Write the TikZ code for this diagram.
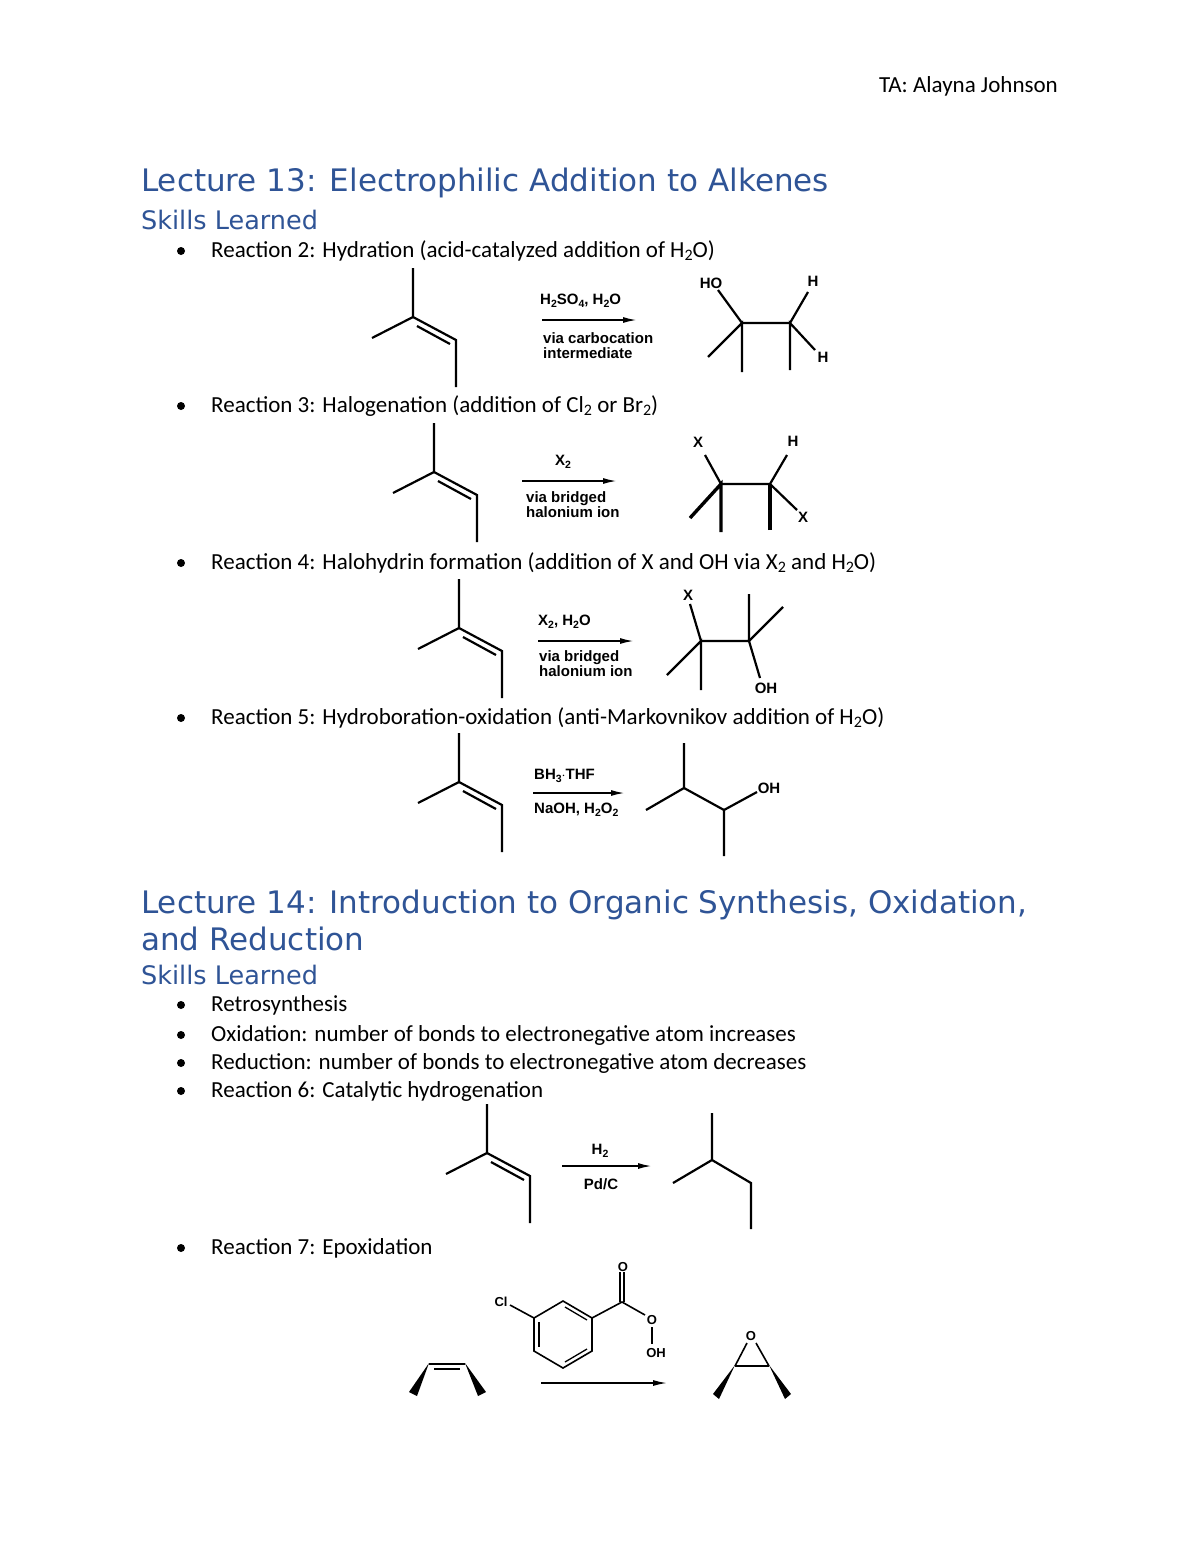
\documentclass[tikz,border=0pt]{standalone}
\usepackage{fontspec}
\setmainfont{Carlito}
\newfontfamily\headf{DejaVu Sans}
\newfontfamily\chemf{Liberation Sans}
\usetikzlibrary{arrows.meta}
\definecolor{hblue}{HTML}{2F5496}
\newcommand{\chs}[1]{\raisebox{-0.35ex}{\fontsize{10.5}{10}\selectfont #1}}
\newcommand{\bsub}[1]{\raisebox{-0.3ex}{\fontsize{16}{16}\selectfont #1}}
\tikzset{
  bond/.style={line width=2.2pt},
  tbond/.style={line width=3.4pt},
  rxn/.style={line width=1.8pt,-{Latex[length=14pt,width=6pt]}},
  chem/.style={font=\chemf\bfseries\fontsize{15}{15.5}\selectfont,inner sep=0pt,align=left},
  body/.style={font=\fontsize{23}{26}\selectfont,anchor=west,inner sep=0pt},
  h1/.style={font=\headf\fontsize{31}{37}\selectfont,text=hblue,anchor=west,inner sep=0pt,align=left},
  h2/.style={font=\headf\fontsize{25.5}{28}\selectfont,text=hblue,anchor=west,inner sep=0pt},
}
\newcommand{\alkene}[2]{%
  \begin{scope}[shift={(#1,#2)}]
  \draw[bond] (0,-49) -- (0,0) -- (-41,21);
  \draw[bond] (0,0) -- (43,23) -- (43,70);
  \draw[bond] (4,9) -- (37,27);
  \end{scope}}
\begin{document}
\begin{tikzpicture}[x=1pt,y=-1pt]
\useasboundingbox (0,0) rectangle (1200,1553);
\fill[white] (0,0) rectangle (1200,1553);
\node[font=\fontsize{23}{26}\selectfont,anchor=east,inner sep=0pt] (ta) at (1058,86) {TA: Alayna Johnson};
\node[h1] (l13) at (141,183) {Lecture 13: Electrophilic Addition to Alkenes};
\node[h2] (s13) at (141,220) {Skills Learned};
\foreach \y/\t in {251/{Reaction 2: Hydration (acid-catalyzed addition of H\bsub{2}O)},
  406/{Reaction 3: Halogenation (addition of Cl\bsub{2} or Br\bsub{2})},
  563/{Reaction 4: Halohydrin formation (addition of X and OH via X\bsub{2} and H\bsub{2}O)},
  718/{Reaction 5: Hydroboration-oxidation (anti-Markovnikov addition of H\bsub{2}O)},
  1005/{Retrosynthesis},
  1035/{Oxidation: number of bonds to electronegative atom increases},
  1063/{Reduction: number of bonds to electronegative atom decreases},
  1091/{Reaction 6: Catalytic hydrogenation},
  1248/{Reaction 7: Epoxidation}}{
  \fill (181,\y) circle (4);
  \node[body] at (211,\y) {\t};
}
\node[h1] (l14) at (141,920) {Lecture 14: Introduction to Organic Synthesis, Oxidation,\\and Reduction};
\node[h2] (s14) at (141,975) {Skills Learned};

% Reaction 2
\alkene{413}{317}
\coordinate (a2s) at (542,320); \coordinate (a2e) at (637,320);
\draw[rxn] (a2s) -- (a2e);
\node[chem,anchor=west] at (540,301) {H\chs{2}SO\chs{4}, H\chs{2}O};
\node[chem,anchor=north west] at (543,332) {via carbocation\\intermediate};
\draw[bond] (718,290) -- (742,323) -- (790,323) -- (808,292);
\draw[bond] (708,357) -- (742,323) -- (742,372);
\draw[bond] (790,370) -- (790,323) -- (815,350);
\node[chem] at (711,283) {HO};
\node[chem] at (813,281) {H};
\node[chem] at (823,357) {H};

% Reaction 3
\alkene{434}{472}
\coordinate (a3s) at (522,481); \coordinate (a3e) at (617,481);
\draw[rxn] (a3s) -- (a3e);
\node[chem] at (563,462) {X\chs{2}};
\node[chem,anchor=north west] at (526,491) {via bridged\\halonium ion};
\draw[bond] (705,455) -- (721,484) -- (770,484) -- (787,455);
\draw[tbond] (690,518) -- (721,484) -- (721,532);
\draw[tbond] (770,530) -- (770,484);
\draw[bond] (770,484) -- (797,510);
\node[chem] at (698,442) {X};
\node[chem] at (793,441) {H};
\node[chem] at (803,517) {X};

% Reaction 4
\alkene{459}{628}
\coordinate (a4s) at (538,641); \coordinate (a4e) at (634,641);
\draw[rxn] (a4s) -- (a4e);
\node[chem,anchor=west] at (538,622) {X\chs{2}, H\chs{2}O};
\node[chem,anchor=north west] at (539,650) {via bridged\\halonium ion};
\draw[bond] (690,604) -- (701,641) -- (749,641) -- (749,594);
\draw[bond] (667,675) -- (701,641) -- (701,690);
\draw[bond] (783,607) -- (749,641) -- (760,678);
\node[chem] at (688,595) {X};
\node[chem] at (766,688) {OH};

% Reaction 5
\alkene{459}{782}
\coordinate (a5s) at (533,793); \coordinate (a5e) at (625,793);
\draw[rxn] (a5s) -- (a5e);
\node[chem,anchor=west] at (534,776) {BH\chs{3}$\cdot$THF};
\node[chem,anchor=west] at (534,810) {NaOH, H\chs{2}O\chs{2}};
\draw[bond] (684,743) -- (684,788) -- (646,810);
\draw[bond] (684,788) -- (724,810) -- (724,856);
\draw[bond] (724,810) -- (757,792);
\node[chem] at (769,788) {OH};

% Reaction 6
\alkene{487}{1153}
\coordinate (a6s) at (562,1166); \coordinate (a6e) at (652,1166);
\draw[rxn] (a6s) -- (a6e);
\node[chem] at (600,1151) {H\chs{2}};
\node[chem] at (601,1184) {Pd/C};
\draw[bond] (712,1113) -- (712,1160) -- (673,1183);
\draw[bond] (712,1160) -- (751,1183) -- (751,1229);

% Reaction 7
\draw[line width=1.6pt] (429,1364) -- (465,1364);
\draw[line width=1.6pt] (434,1369) -- (460,1369);
\fill (429,1363) -- (417,1396) -- (409,1392) -- cycle;
\fill (465,1363) -- (478,1396) -- (486,1392) -- cycle;
\coordinate (a7s) at (541,1383); \coordinate (a7e) at (667,1383);
\draw[rxn,line width=1.5pt] (a7s) -- (a7e);
\draw[line width=1.6pt] (735,1366) -- (769,1366);
\draw[line width=1.6pt] (735,1366) -- (747,1343);
\draw[line width=1.6pt] (769,1366) -- (756,1343);
\node[chem,font=\chemf\bfseries\fontsize{13}{13}\selectfont] at (751,1336) {O};
\fill (735,1365) -- (719,1399) -- (713,1394) -- cycle;
\fill (769,1365) -- (785,1399) -- (791,1394) -- cycle;
% mCPBA
\draw[line width=1.6pt] (563,1301) -- (592,1318) -- (592,1351) -- (563,1368) -- (534,1351) -- (534,1318) -- cycle;
\draw[line width=1.3pt] (565,1307) -- (587,1320);
\draw[line width=1.3pt] (587,1349) -- (565,1362);
\draw[line width=1.3pt] (539,1322) -- (539,1347);
\draw[line width=1.6pt] (534,1318) -- (510,1305);
\draw[line width=1.6pt] (592,1318) -- (622,1302) -- (645,1315);
\draw[line width=1.3pt] (620,1302) -- (620,1272);
\draw[line width=1.3pt] (624,1302) -- (624,1272);
\draw[line width=1.6pt] (652,1327) -- (652,1344);
\node[chem,font=\chemf\bfseries\fontsize{13}{13}\selectfont] at (501,1302) {Cl};
\node[chem,font=\chemf\bfseries\fontsize{13}{13}\selectfont] at (623,1267) {O};
\node[chem,font=\chemf\bfseries\fontsize{13}{13}\selectfont] at (652,1320) {O};
\node[chem,font=\chemf\bfseries\fontsize{13}{13}\selectfont] at (656,1353) {OH};
\end{tikzpicture}
\end{document}
